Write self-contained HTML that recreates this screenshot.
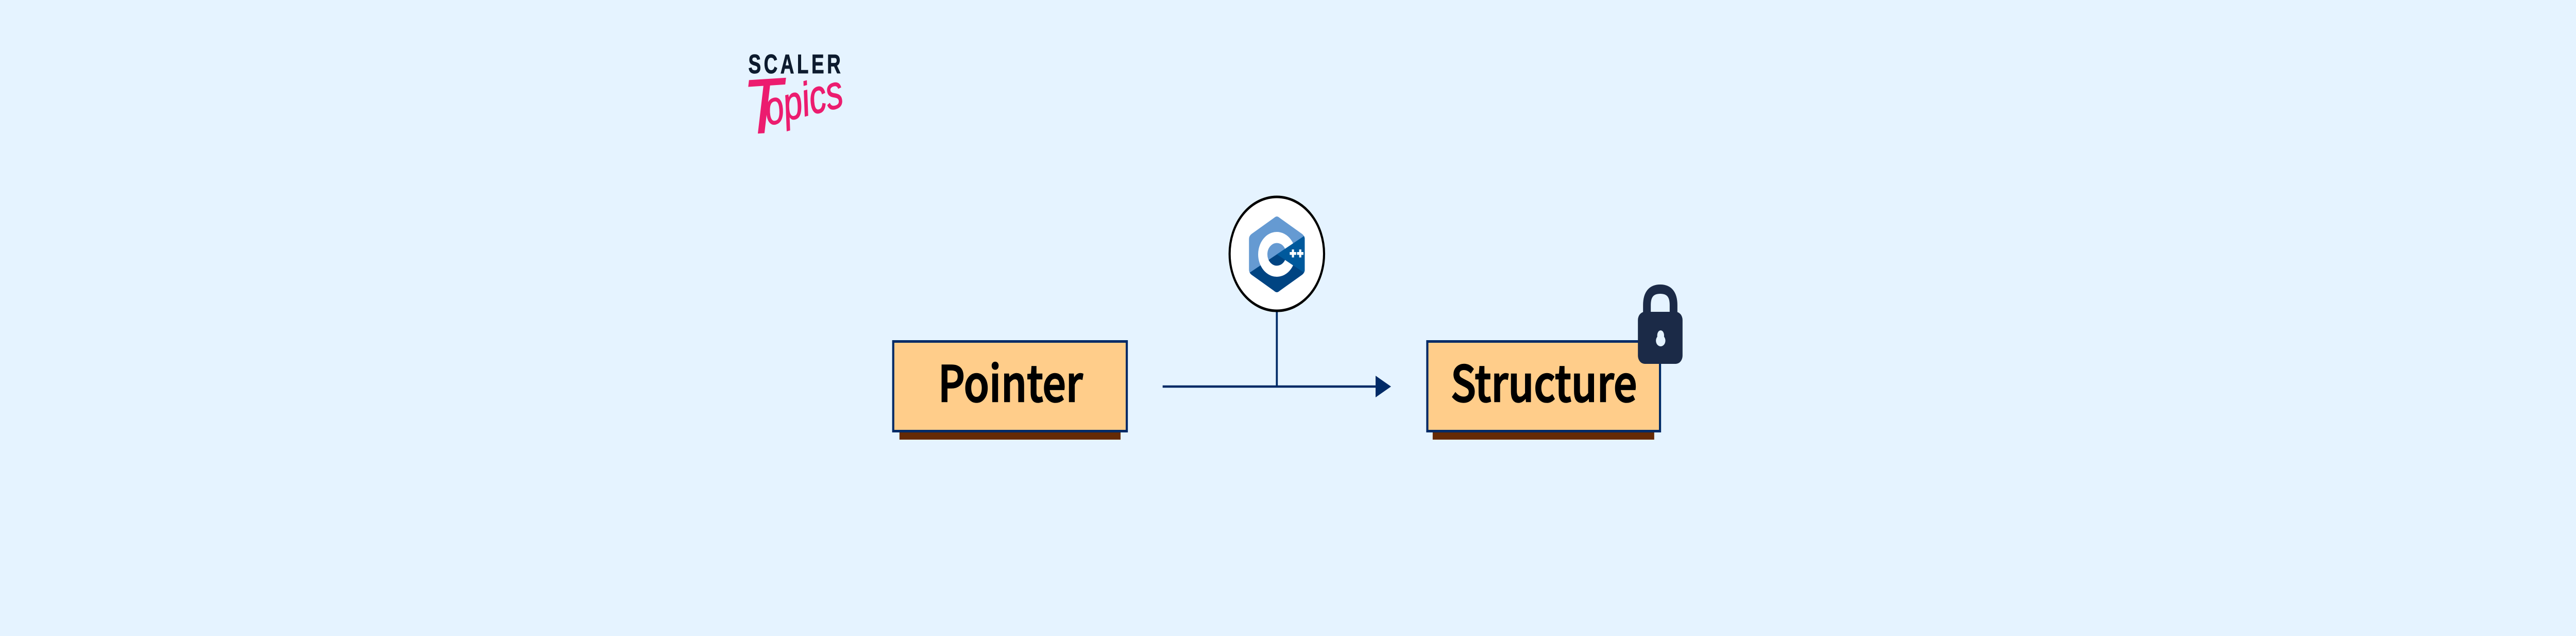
<!DOCTYPE html>
<html>
<head>
<meta charset="utf-8">
<style>
html,body{margin:0;padding:0;background:#e5f3ff;width:100%;height:100%;overflow:hidden}
svg{display:block;position:absolute;left:0;top:0;width:100%;height:100%}
.n{font-family:"Noto Sans CJK JP","Liberation Sans",sans-serif;font-size:96px;font-weight:500;fill:#000;stroke:#000;stroke-width:2.5px}
</style>
</head>
<body>
<svg viewBox="0 0 6000 1234" preserveAspectRatio="none" xmlns="http://www.w3.org/2000/svg">
<rect width="6000" height="1234" fill="#e5f3ff"/>

<!-- logo -->
<text transform="translate(1743,142) scale(.85,1)" x="0" y="0" font-family="Liberation Sans, sans-serif" font-weight="700" font-size="52" fill="#0d1b2e" stroke="#0d1b2e" stroke-width="1" textLength="253" lengthAdjust="spacing">SCALER</text>
<g fill="#ec1c6f" stroke="#ec1c6f" stroke-width="1.500" font-family="Liberation Sans, sans-serif" font-style="italic">
  <text transform="translate(1735,260) rotate(-3)" font-size="150">T</text>
  <text transform="translate(1788,244) rotate(-12)" font-size="92" textLength="184" lengthAdjust="spacingAndGlyphs">opics</text>
</g>

<!-- Pointer -->
<rect x="2095" y="820" width="515" height="33" fill="#652a05"/>
<rect x="2080.500" y="662.500" width="544" height="174" fill="#ffcd8a" stroke="#002a66" stroke-width="5"/>
<text class="n" x="2185" y="779" textLength="337" lengthAdjust="spacingAndGlyphs">Pointer</text>

<!-- Structure -->
<rect x="3337" y="820" width="516" height="33" fill="#652a05"/>
<rect x="3324.500" y="662.500" width="542" height="174" fill="#ffcd8a" stroke="#002a66" stroke-width="5"/>
<text class="n" x="3379" y="779" textLength="434" lengthAdjust="spacingAndGlyphs">Structure</text>

<!-- connectors -->
<line x1="2708" y1="750" x2="3206" y2="750" stroke="#002a66" stroke-width="4.500"/>
<polygon points="3204,729 3240,750 3204,771" fill="#002a66"/>
<line x1="2974" y1="603" x2="2974" y2="750" stroke="#002a66" stroke-width="4.500"/>

<!-- C++ circle -->
<ellipse cx="2974" cy="492.500" rx="110" ry="110.500" fill="#fff" stroke="#000" stroke-width="5"/>
<clipPath id="hex"><path d="M2974 420 Q2977 420 2981 423 L3033 454 Q3039 458 3039 464 L3039 523 Q3039 529 3033 533 L2981 564 Q2977 567 2974 567 Q2971 567 2967 564 L2915 533 Q2909 529 2909 523 L2909 464 Q2909 458 2915 454 L2967 423 Q2971 420 2974 420Z"/></clipPath>
<g clip-path="url(#hex)">
  <rect x="2900" y="410" width="150" height="170" fill="#659ad2"/>
  <polygon points="2900,535 3050,451 3050,580 2900,580" fill="#004482"/>
  <polygon points="2974,493.500 3050,451 3050,536" fill="#00599c"/>
</g>
<path d="M3002.500 477.400 A32.750 32.750 0 1 0 3002.500 509.600" fill="none" stroke="#fff" stroke-width="21.500"/>
<path d="M3004 489h5v-5h5v5h5v5.500h-5v5h-5v-5h-5zM3021 489h5v-5h5v5h5v5.500h-5v5h-5v-5h-5z" fill="#fff"/>

<!-- lock -->
<path d="M3836 610 V592 Q3836 561 3867 561 Q3898 561 3898 592 V610" fill="none" stroke="#1b2a47" stroke-width="18"/>
<rect x="3815" y="605" width="104" height="101" rx="16" fill="#1b2a47"/>
<circle cx="3868" cy="661" r="11" fill="#e5f3ff"/>
<ellipse cx="3868" cy="651" rx="8" ry="10" fill="#e5f3ff"/>
</svg>
</body>
</html>
